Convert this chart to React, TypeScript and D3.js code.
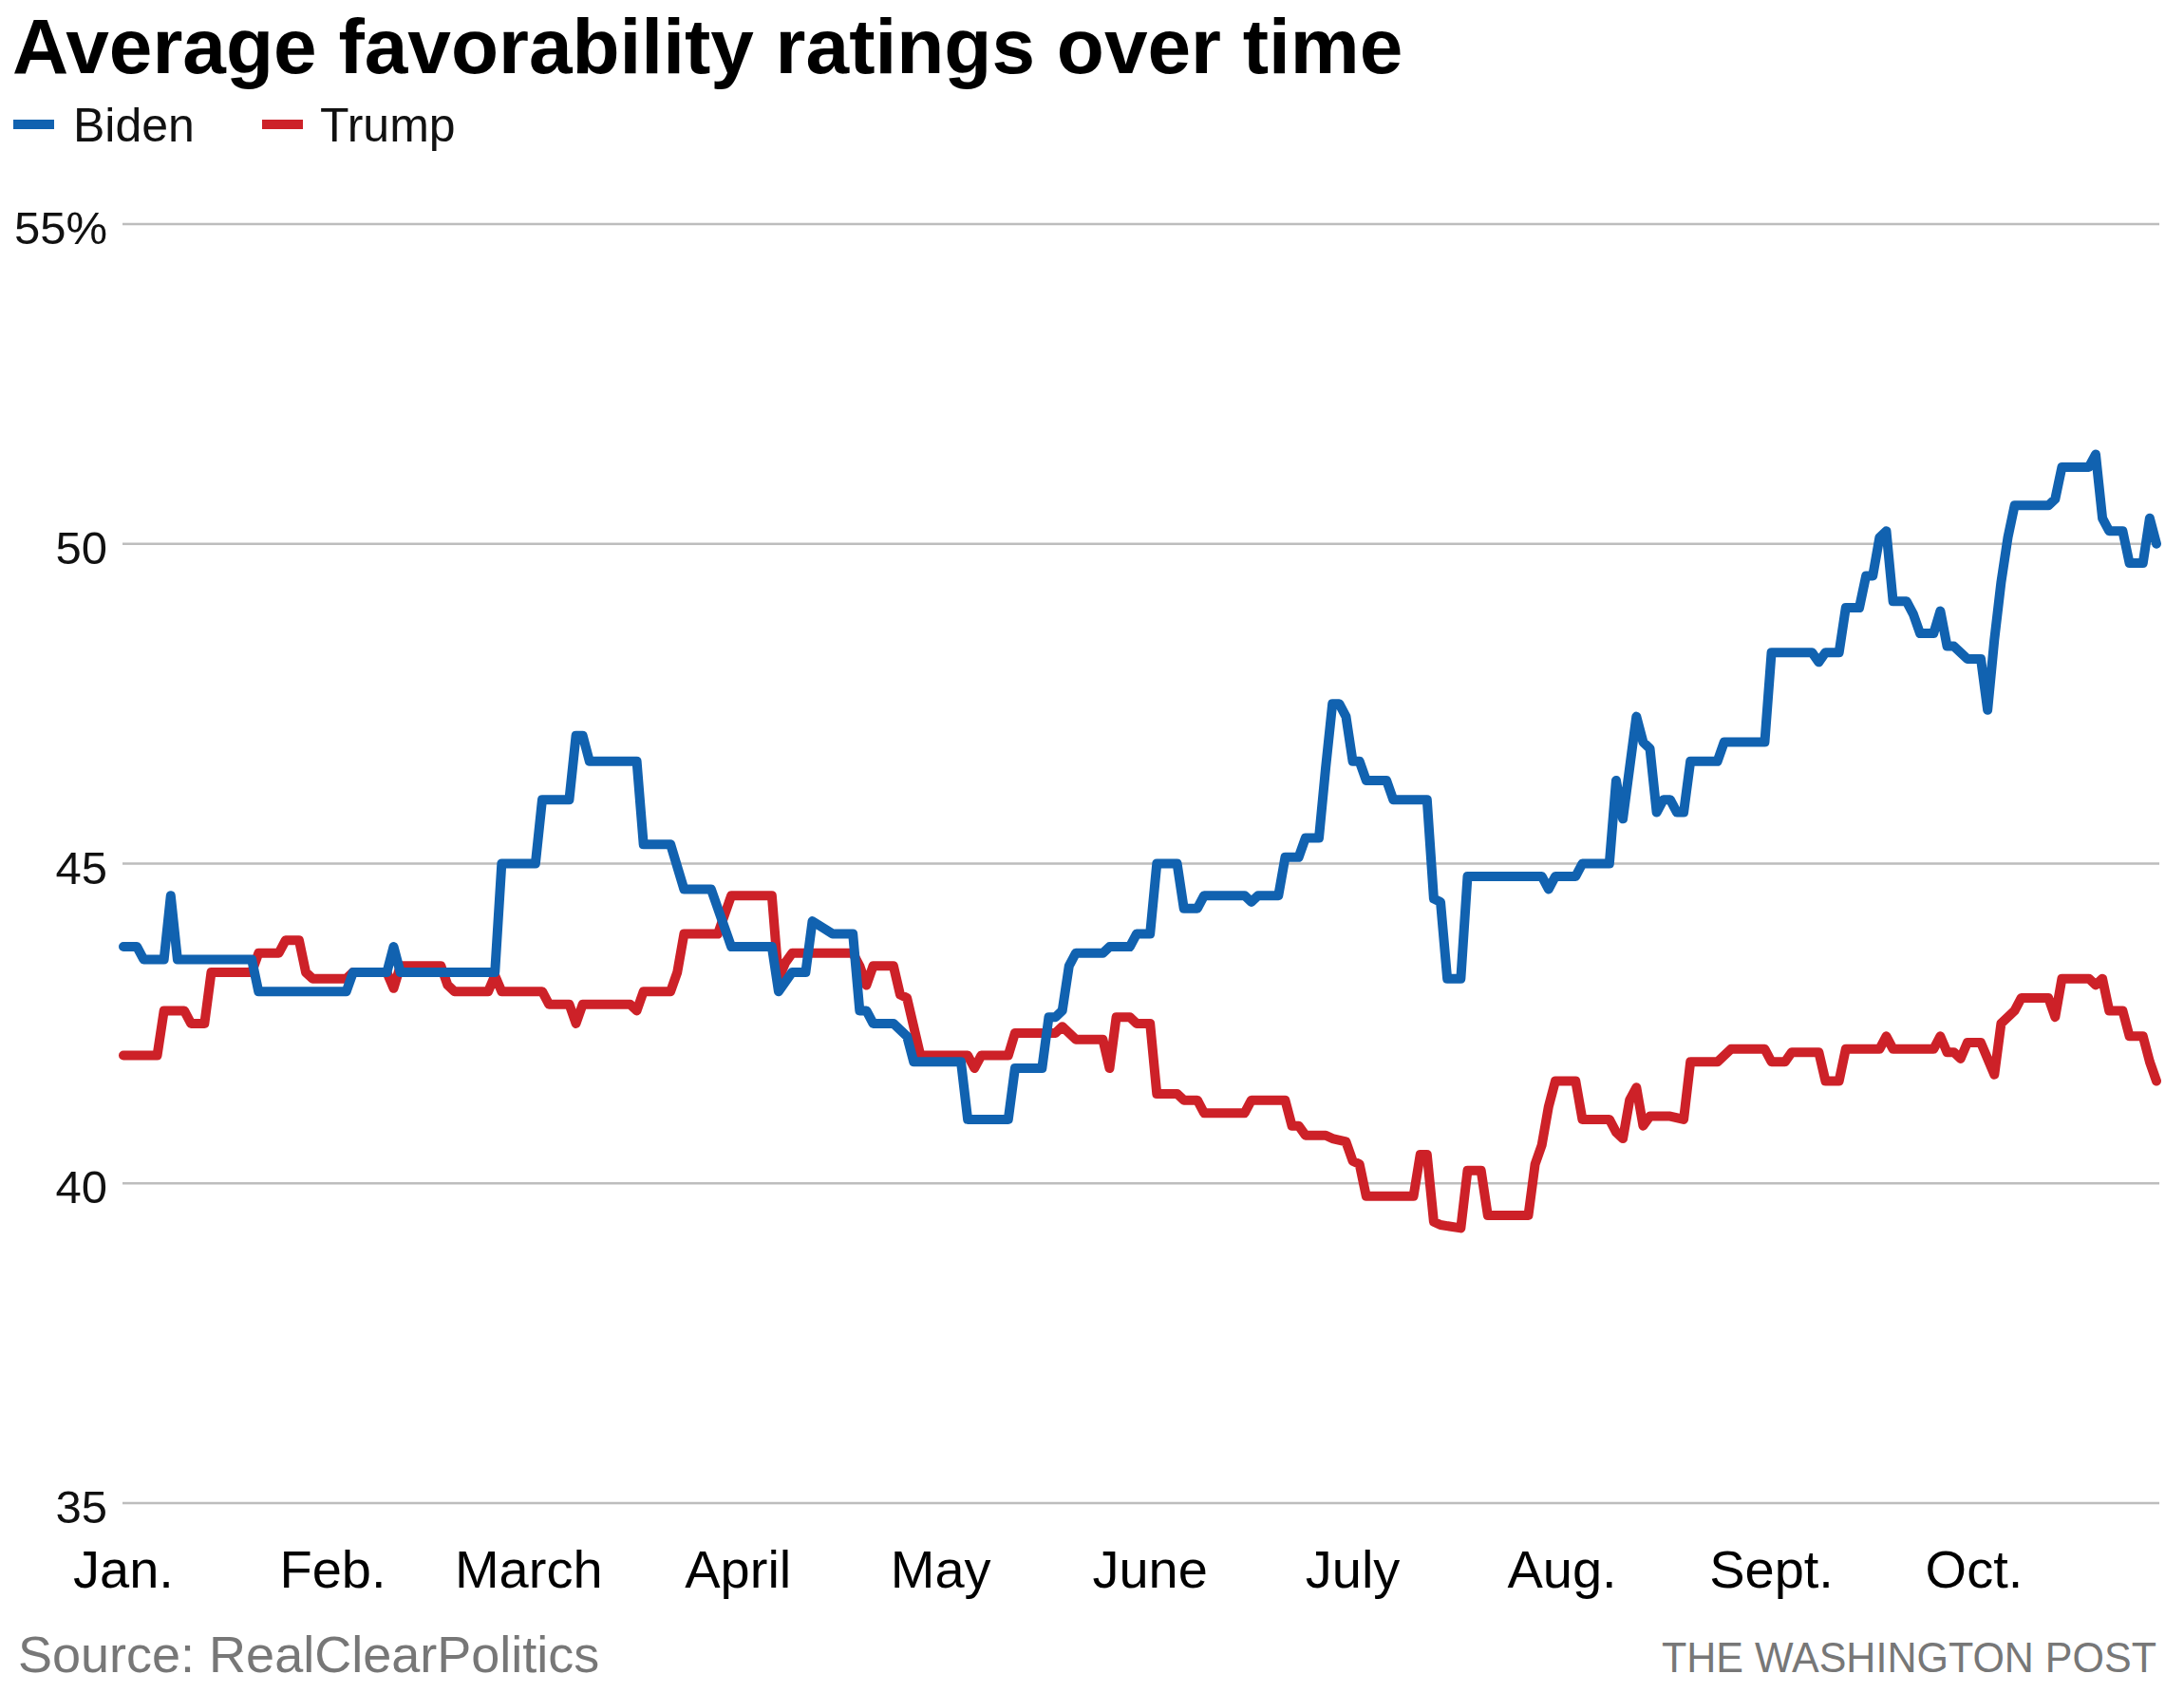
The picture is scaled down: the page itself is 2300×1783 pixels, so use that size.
import * as d3 from "d3";

// days after Jan. 1, 2020 and the RCP average (percent favourable)
const biden: [number, number][] = [
    [0, 43.7], [2, 43.7], [3, 43.5], [6, 43.5], [7, 44.5], [8, 43.5], [19, 43.5], [20, 43.0],
    [33, 43.0], [34, 43.3], [39, 43.3], [40, 43.7], [41, 43.3], [55, 43.3], [56, 45.0],
    [61, 45.0], [62, 46.0], [66, 46.0], [67, 47.0], [68, 47.0], [69, 46.6], [76, 46.6],
    [77, 45.3], [81, 45.3], [83, 44.6], [87, 44.6], [89, 44.0], [90, 43.7], [96, 43.7],
    [97, 43.0], [99, 43.3], [101, 43.3], [102, 44.1], [105, 43.9], [108, 43.9], [109, 42.7],
    [110, 42.7], [111, 42.5], [114, 42.5], [115, 42.4], [116, 42.3], [117, 41.9], [124, 41.9],
    [125, 41.0], [131, 41.0], [132, 41.8], [136, 41.8], [137, 42.6], [138, 42.6], [139, 42.7],
    [140, 43.4], [141, 43.6], [145, 43.6], [146, 43.7], [149, 43.7], [150, 43.9], [152, 43.9],
    [153, 45.0], [156, 45.0], [157, 44.3], [159, 44.3], [160, 44.5], [166, 44.5], [167, 44.4],
    [168, 44.5], [171, 44.5], [172, 45.1], [174, 45.1], [175, 45.4], [177, 45.4], [178, 46.5],
    [179, 47.5], [180, 47.5], [181, 47.3], [182, 46.6], [183, 46.6], [184, 46.3], [187, 46.3],
    [188, 46.0], [193, 46.0], [194, 44.45], [195, 44.4], [196, 43.2], [198, 43.2], [199, 44.8],
    [210, 44.8], [211, 44.6], [212, 44.8], [215, 44.8], [216, 45.0], [220, 45.0], [221, 46.3],
    [222, 45.7], [224, 47.3], [225, 46.9], [226, 46.8], [227, 45.8], [228, 46.0], [229, 46.0],
    [230, 45.8], [231, 45.8], [232, 46.6], [236, 46.6], [237, 46.9], [243, 46.9], [244, 48.3],
    [250, 48.3], [251, 48.15], [252, 48.3], [254, 48.3], [255, 49.0], [257, 49.0], [258, 49.5],
    [259, 49.5], [260, 50.1], [261, 50.2], [262, 49.1], [264, 49.1], [265, 48.9], [266, 48.6],
    [268, 48.6], [269, 48.95], [270, 48.4], [271, 48.4], [273, 48.2], [275, 48.2], [276, 47.4],
    [277, 48.5], [278, 49.4], [279, 50.1], [280, 50.6], [285, 50.6], [286, 50.7], [287, 51.2],
    [291, 51.2], [292, 51.4], [293, 50.4], [294, 50.2], [296, 50.2], [297, 49.7], [299, 49.7],
    [300, 50.4], [301, 50.0],
];

const trump: [number, number][] = [
    [0, 42.0], [5, 42.0], [6, 42.7], [9, 42.7], [10, 42.5], [12, 42.5], [13, 43.3], [19, 43.3],
    [20, 43.6], [23, 43.6], [24, 43.8], [26, 43.8], [27, 43.3], [28, 43.2], [33, 43.2],
    [34, 43.3], [39, 43.3], [40, 43.05], [41, 43.4], [47, 43.4], [48, 43.1], [49, 43.0],
    [54, 43.0], [55, 43.25], [56, 43.0], [62, 43.0], [63, 42.8], [66, 42.8], [67, 42.5],
    [68, 42.8], [75, 42.8], [76, 42.7], [77, 43.0], [81, 43.0], [82, 43.3], [83, 43.9],
    [88, 43.9], [89, 44.2], [90, 44.5], [96, 44.5], [97, 43.2], [98, 43.45], [99, 43.6],
    [108, 43.6], [109, 43.4], [110, 43.1], [111, 43.4], [114, 43.4], [115, 42.95], [116, 42.9],
    [118, 42.0], [125, 42.0], [126, 41.8], [127, 42.0], [131, 42.0], [132, 42.35], [138, 42.35],
    [139, 42.45], [141, 42.25], [145, 42.25], [146, 41.8], [147, 42.6], [149, 42.6], [150, 42.5],
    [152, 42.5], [153, 41.4], [156, 41.4], [157, 41.3], [159, 41.3], [160, 41.1], [166, 41.1],
    [167, 41.3], [172, 41.3], [173, 40.9], [174, 40.9], [175, 40.75], [178, 40.75], [179, 40.7],
    [181, 40.65], [182, 40.35], [183, 40.3], [184, 39.8], [191, 39.8], [192, 40.45], [193, 40.45],
    [194, 39.4], [195, 39.35], [198, 39.3], [199, 40.2], [201, 40.2], [202, 39.5], [208, 39.5],
    [209, 40.3], [210, 40.6], [211, 41.2], [212, 41.6], [215, 41.6], [216, 41.0], [220, 41.0],
    [221, 40.8], [222, 40.7], [223, 41.3], [224, 41.5], [225, 40.9], [226, 41.05], [229, 41.05],
    [231, 41.0], [232, 41.9], [236, 41.9], [238, 42.1], [243, 42.1], [244, 41.9], [246, 41.9],
    [247, 42.05], [251, 42.05], [252, 41.6], [254, 41.6], [255, 42.1], [260, 42.1], [261, 42.3],
    [262, 42.1], [268, 42.1], [269, 42.3], [270, 42.05], [271, 42.05], [272, 41.95], [273, 42.2],
    [275, 42.2], [277, 41.7], [278, 42.5], [280, 42.7], [281, 42.9], [285, 42.9], [286, 42.6],
    [287, 43.2], [291, 43.2], [292, 43.1], [293, 43.2], [294, 42.7], [296, 42.7], [297, 42.3],
    [299, 42.3], [300, 41.9], [301, 41.6],
];

const monthLabels = ["Jan.", "Feb.", "March", "April", "May", "June", "July", "Aug.", "Sept.", "Oct."];
const yTicks = [35, 40, 45, 50, 55];
const seriesNames = ["Biden", "Trump"];

const BLUE = "#1162b0";
const RED = "#cd2128";
const FONT = "'Liberation Sans', Arial, sans-serif";

export default function App() {
    const width = 2300;
    const height = 1783;
    const start = new Date(2020, 0, 1);
    const day = (d: number) => d3.timeDay.offset(start, d);

    const x = d3.scaleTime([day(0), day(301)], [130, 2271]);
    const y = d3.scaleLinear([35, 55], [1583, 236]);
    const line = d3
        .line<[number, number]>()
        .x((d) => x(day(d[0])))
        .y((d) => y(d[1]));

    const months = d3.timeMonth.range(start, new Date(2020, 9, 2));

    return (
        <svg
            width={width}
            height={height}
            style={{ position: "absolute", left: 0, top: 0, background: "#fff" }}
            fontFamily={FONT}
        >
            <text x={13} y={77} fontSize={82} fontWeight="bold" fill="#000">
                Average favorability ratings over time
            </text>

            {/* legend */}
            <g>
                <rect x={14} y={126} width={43} height={10} fill={BLUE} />
                <text x={77} y={149} fontSize={50} fill="#111">{seriesNames[0]}</text>
                <rect x={276} y={126} width={43} height={10} fill={RED} />
                <text x={337} y={149} fontSize={50} fill="#111">{seriesNames[1]}</text>
            </g>

            {/* grid + y labels */}
            <g>
                {yTicks.map((t) => (
                    <g key={t}>
                        <line x1={129} x2={2274} y1={y(t)} y2={y(t)} stroke="#bdbdbd" strokeWidth={2.5} />
                        <text x={113} y={y(t) + 21} fontSize={49} textAnchor="end" fill="#111">
                            {t === 55 ? "55%" : t}
                        </text>
                    </g>
                ))}
            </g>

            {/* x labels */}
            <g>
                {months.map((m, i) => (
                    <text key={i} x={x(m)} y={1672} fontSize={56} textAnchor="middle" fill="#000">
                        {monthLabels[i]}
                    </text>
                ))}
            </g>

            <path d={line(trump) || ""} fill="none" stroke={RED} strokeWidth={10}
                strokeLinejoin="round" strokeLinecap="round" />
            <path d={line(biden) || ""} fill="none" stroke={BLUE} strokeWidth={10}
                strokeLinejoin="round" strokeLinecap="round" />

            <text x={19} y={1761} fontSize={54} fill="#777">Source: RealClearPolitics</text>
            <text x={2271} y={1761} fontSize={45} fill="#777" textAnchor="end"
                textLength={521} lengthAdjust="spacingAndGlyphs">
                THE WASHINGTON POST
            </text>
        </svg>
    );
}
